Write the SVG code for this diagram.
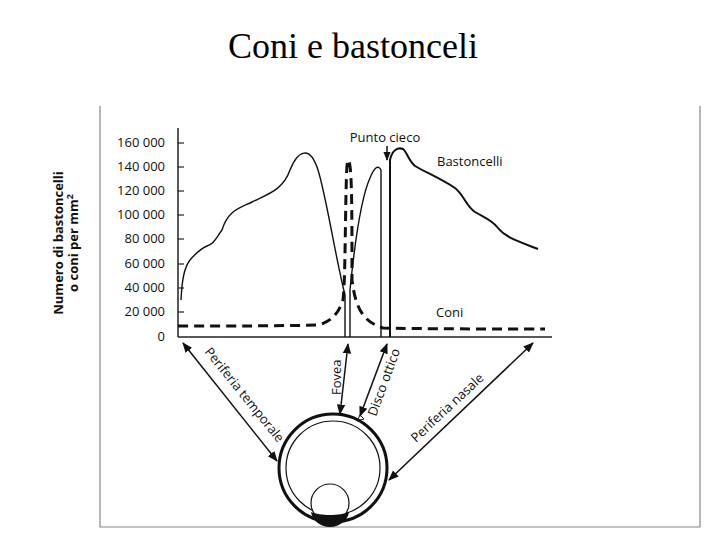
<svg xmlns="http://www.w3.org/2000/svg" width="720" height="540" viewBox="0 0 720 540">
<style>
.t{font-family:"Open Sans","DejaVu Sans",sans-serif;font-size:13px;fill:#111}
.ax{stroke:#222;stroke-width:1.5;fill:none}
.c{stroke:#111;fill:none}
.ar{stroke:#111;stroke-width:1.5;fill:none;marker-start:url(#m);marker-end:url(#m)}
</style>
<defs><marker id="m" viewBox="0 0 10 10" refX="9" refY="5" markerWidth="7" markerHeight="7" orient="auto-start-reverse"><path d="M0,1 L10,5 L0,9 z" fill="#111"/></marker>
<marker id="m1" viewBox="0 0 10 10" refX="9" refY="5" markerWidth="6" markerHeight="6" orient="auto"><path d="M0,1 L10,5 L0,9 z" fill="#111"/></marker></defs>
<rect width="720" height="540" fill="#fff"/>
<text x="353" y="58" text-anchor="middle" font-family="Liberation Serif,serif" font-size="36">Coni e bastonceli</text>
<path d="M100,106 V527 H700 V106" stroke="#888" stroke-width="1.2" fill="none"/>
<g id="axes">
<line class="ax" x1="178" y1="128" x2="178" y2="337"/>
<line class="ax" x1="178" y1="337" x2="552" y2="337"/>
<g stroke="#222" stroke-width="1.2">
<line x1="178" y1="143" x2="184" y2="143"/><line x1="178" y1="167" x2="184" y2="167"/><line x1="178" y1="191" x2="184" y2="191"/><line x1="178" y1="215" x2="184" y2="215"/><line x1="178" y1="239" x2="184" y2="239"/><line x1="178" y1="264" x2="184" y2="264"/><line x1="178" y1="288" x2="184" y2="288"/><line x1="178" y1="312" x2="184" y2="312"/></g>
<g class="t" text-anchor="end">
<text x="165" y="147">160 000</text><text x="165" y="171">140 000</text><text x="165" y="195">120 000</text><text x="165" y="219">100 000</text><text x="165" y="243">80 000</text><text x="165" y="268">60 000</text><text x="165" y="292">40 000</text><text x="165" y="316">20 000</text><text x="165" y="341">0</text></g>
<text class="t" font-weight="bold" transform="translate(63,243) rotate(-90)" text-anchor="middle">Numero di bastoncelli</text>
<text class="t" font-weight="bold" transform="translate(78,243) rotate(-90)" text-anchor="middle">o coni per mm<tspan font-size="9" dy="-5">2</tspan></text>
</g>
<g id="rods">
<path class="c" style="stroke-width:1.4" d="M181,300 C182,280 184,268 190,260 C196,253 200,249 207,246 C214,244 216,238 222,230 C228,210 240,208 252,202 C268,194 283,190 290,170 C298,150 310,145 318,170 C326,195 336,260 345,295 V337 M350,337 V290 C354,250 360,200 370,178 C374,168 378,164 381,170 V337"/>
<path class="c" style="stroke-width:2" d="M390,337 V160 C392,150 398,147 403,149 C407,152 408,160 415,166 C425,172 440,178 455,188 C464,195 466,206 475,212 C485,218 492,220 498,228 C506,238 520,242 538,249"/>
<path class="c" style="stroke-width:3;stroke-dasharray:10,6" d="M178,326 C230,326 280,326 318,325 C330,322 338,315 343,300 C346,280 345,160 348,160 C352,160 352,210 352,280 C356,312 365,322 383,328 C420,329 500,329 545,329"/>
<line x1="387" y1="146" x2="387" y2="160" stroke="#111" stroke-width="1.5" marker-end="url(#m1)"/>
<text class="t" x="385" y="142" text-anchor="middle">Punto cieco</text>
<text class="t" x="437" y="166">Bastoncelli</text>
<text class="t" x="436" y="317">Coni</text>
</g>
<g id="eye">
<circle cx="333" cy="468" r="54" fill="none" stroke="#111" stroke-width="3"/>
<circle cx="333" cy="468" r="47" fill="none" stroke="#111" stroke-width="1.2"/>
<circle cx="330" cy="503" r="19" fill="#fff" stroke="#111" stroke-width="1.2"/>
<path d="M311,512 C312,520 320,527 330,527 C340,527 348,520 349,512 C340,516 320,516 311,512 Z" fill="#111"/>
<path d="M340,416 l2,-3 l3,3" fill="none" stroke="#111"/>
<path d="M357,421 l3,-6 l4,4 z" fill="none" stroke="#111"/>
</g>
<g id="connectors">
<line class="ar" x1="183" y1="343" x2="277" y2="461"/>
<line class="ar" x1="348" y1="344" x2="340" y2="414"/>
<line class="ar" x1="387" y1="344" x2="360" y2="416"/>
<line class="ar" x1="533" y1="343" x2="389" y2="480"/>
</g>
<g class="t">
<text transform="translate(204,352) rotate(51)">Periferia temporale</text>
<text transform="translate(341,395) rotate(-90)">Fovea</text>
<text transform="translate(376,417) rotate(-70)">Disco ottico</text>
<text transform="translate(416,443) rotate(-43)">Periferia nasale</text>
</g>
</svg>
